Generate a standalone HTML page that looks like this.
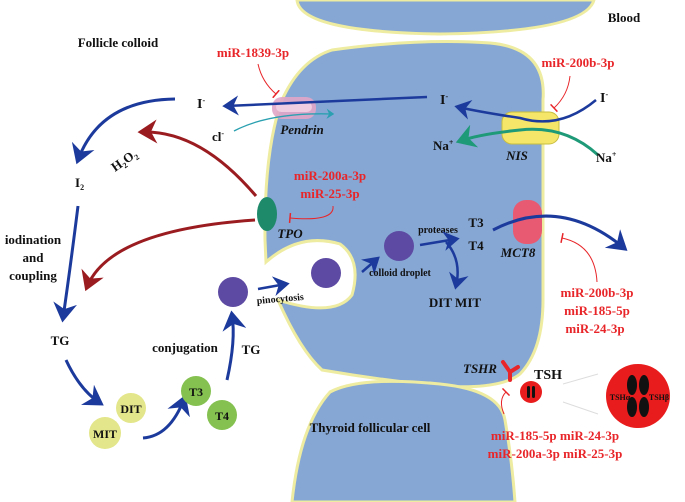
<!DOCTYPE html>
<html><head><meta charset="utf-8"><style>
body{margin:0;background:#fff}
svg{display:block}
text{font-family:"Liberation Serif",serif;font-weight:bold}
.r{fill:#e8262a;font-size:13px}
.k{fill:#111;font-size:12px}
</style></head><body>
<svg width="685" height="502" viewBox="0 0 685 502" xmlns="http://www.w3.org/2000/svg">
<defs>
<marker id="ab" markerWidth="8" markerHeight="8" refX="5" refY="4" orient="auto" markerUnits="strokeWidth"><path d="M0,0 L6.5,4 L0,8 L2,4z" fill="#1c3a9c"/></marker>
<marker id="ar" markerWidth="8" markerHeight="8" refX="5" refY="4" orient="auto" markerUnits="strokeWidth"><path d="M0,0 L6.5,4 L0,8 L2,4z" fill="#9b1c20"/></marker>
<marker id="ag" markerWidth="8" markerHeight="8" refX="5" refY="4" orient="auto" markerUnits="strokeWidth"><path d="M0,0 L6.5,4 L0,8 L2,4z" fill="#1f9a78"/></marker>
<marker id="at" markerWidth="8" markerHeight="8" refX="5" refY="4" orient="auto" markerUnits="strokeWidth"><path d="M0,0 L6,4 L0,8 L2,4z" fill="#2aa0b0"/></marker>
<marker id="inh" markerWidth="2" markerHeight="10" refX="1" refY="5" orient="auto" markerUnits="userSpaceOnUse"><path d="M1,0 L1,10" stroke="#e8262a" stroke-width="1.5"/></marker>
</defs>
<path d="M297,0 Q300,32 440,34 Q585,32 594,0Z" fill="#86a7d4" stroke="#eeeca0" stroke-width="3"/>
<path d="M332,50 Q300,60 282,100 Q264,150 265,240 L266,262 Q300,232 340,244 Q362,260 352,295 Q335,318 278,300 Q300,350 322,370 Q380,380 440,386 Q500,390 520,374 Q543,350 543,300 L543,100 Q547,48 490,43 Q420,38 332,50Z" fill="#86a7d4" stroke="#eeeca0" stroke-width="3"/>
<path d="M292,502 Q300,425 330,392 Q360,376 440,384 Q500,390 505,420 Q512,460 515,502Z" fill="#86a7d4" stroke="#eeeca0" stroke-width="3"/>

<text x="624" y="22" class="k" style="font-size:13px" text-anchor="middle">Blood</text>
<text x="118" y="47" class="k" style="font-size:13px" text-anchor="middle">Follicle colloid</text>
<text x="253" y="57" class="r" text-anchor="middle">miR-1839-3p</text>
<path d="M258,64 Q262,82 276,94" fill="none" stroke="#e8262a" stroke-width="1" marker-end="url(#inh)"/>
<rect x="272" y="97" width="44" height="22" rx="10" fill="#e0a6c8" opacity=".9"/>
<rect x="276" y="102" width="36" height="10" rx="5" fill="#f0cde0"/>
<text x="302" y="134" class="k" style="font-style:italic;font-size:13px" text-anchor="middle">Pendrin</text>
<path d="M427,97 Q320,102 226,106" fill="none" stroke="#1c3a9c" stroke-width="2.5" marker-end="url(#ab)"/>
<text x="197" y="108" class="k" style="font-size:14px">I<tspan dy="-5" font-size="8">-</tspan></text>
<text x="212" y="141" class="k" style="font-size:13px">cl<tspan dy="-5" font-size="8">-</tspan></text>
<path d="M234,131 Q270,112 333,114" fill="none" stroke="#2aa0b0" stroke-width="1.3" marker-end="url(#at)"/>
<text x="578" y="67" class="r" text-anchor="middle">miR-200b-3p</text>
<path d="M570,76 Q568,95 554,108" fill="none" stroke="#e8262a" stroke-width="1" marker-end="url(#inh)"/>
<rect x="502" y="112" width="57" height="32" rx="10" fill="#f5e66a" stroke="#c8bd40" stroke-width="1"/>
<path d="M596,100 Q560,130 520,118 Q480,112 458,107" fill="none" stroke="#1c3a9c" stroke-width="2.5" marker-end="url(#ab)"/>
<path d="M598,155 Q565,125 520,130 Q480,134 460,141" fill="none" stroke="#1f9a78" stroke-width="3" marker-end="url(#ag)"/>
<text x="517" y="160" class="k" style="font-style:italic;font-size:13px" text-anchor="middle">NIS</text>
<text x="600" y="102" class="k" style="font-size:14px">I<tspan dy="-5" font-size="8">-</tspan></text>
<text x="440" y="104" class="k" style="font-size:14px">I<tspan dy="-5" font-size="8">-</tspan></text>
<text x="596" y="162" class="k" style="font-size:13px">Na<tspan dy="-5" font-size="8">+</tspan></text>
<text x="433" y="150" class="k" style="font-size:13px">Na<tspan dy="-5" font-size="8">+</tspan></text>
<path d="M175,99 Q100,100 78,160" fill="none" stroke="#1c3a9c" stroke-width="3" marker-end="url(#ab)"/>
<text x="115" y="172" class="k" style="font-size:13px" transform="rotate(-35 115 172)">H<tspan dy="3" font-size="8">2</tspan><tspan dy="-3">O</tspan><tspan dy="3" font-size="8">2</tspan></text>
<path d="M256,196 Q200,130 142,132" fill="none" stroke="#9b1c20" stroke-width="3" marker-end="url(#ar)"/>
<text x="75" y="187" class="k" style="font-size:13px">I<tspan dy="3" font-size="8">2</tspan></text>
<path d="M78,206 Q70,270 63,318" fill="none" stroke="#1c3a9c" stroke-width="3" marker-end="url(#ab)"/>
<text x="33" y="244" class="k" style="font-size:13px" text-anchor="middle">iodination</text>
<text x="33" y="262" class="k" style="font-size:13px" text-anchor="middle">and</text>
<text x="33" y="280" class="k" style="font-size:13px" text-anchor="middle">coupling</text>
<path d="M255,220 Q110,230 87,287" fill="none" stroke="#9b1c20" stroke-width="3" marker-end="url(#ar)"/>
<ellipse cx="267" cy="214" rx="10" ry="17" fill="#1e8a6a"/>
<text x="290" y="238" class="k" style="font-style:italic;font-size:13px" text-anchor="middle">TPO</text>
<text x="330" y="180" class="r" text-anchor="middle">miR-200a-3p</text>
<text x="330" y="198" class="r" text-anchor="middle">miR-25-3p</text>
<path d="M333,206 Q335,222 290,218" fill="none" stroke="#e8262a" stroke-width="1" marker-end="url(#inh)"/>
<text x="60" y="345" class="k" style="font-size:13px" text-anchor="middle">TG</text>
<path d="M66,360 Q80,390 100,403" fill="none" stroke="#1c3a9c" stroke-width="3" marker-end="url(#ab)"/>
<circle cx="131" cy="408" r="15" fill="#e3e68a"/>
<text x="131" y="413" class="k" style="font-size:12px" text-anchor="middle">DIT</text>
<circle cx="105" cy="433" r="16" fill="#e3e68a"/>
<text x="105" y="438" class="k" style="font-size:12px" text-anchor="middle">MIT</text>
<path d="M143,438 Q170,436 184,399" fill="none" stroke="#1c3a9c" stroke-width="3" marker-end="url(#ab)"/>
<circle cx="196" cy="391" r="15" fill="#84c150"/>
<text x="196" y="396" class="k" style="font-size:12px" text-anchor="middle">T3</text>
<circle cx="222" cy="415" r="15" fill="#84c150"/>
<text x="222" y="420" class="k" style="font-size:12px" text-anchor="middle">T4</text>
<path d="M227,380 Q236,340 232,315" fill="none" stroke="#1c3a9c" stroke-width="3" marker-end="url(#ab)"/>
<text x="185" y="352" class="k" style="font-size:13px" text-anchor="middle">conjugation</text>
<text x="251" y="354" class="k" style="font-size:13px" text-anchor="middle">TG</text>
<circle cx="233" cy="292" r="15" fill="#5d4aa2"/>
<path d="M258,289 L286,284" fill="none" stroke="#1c3a9c" stroke-width="2.5" marker-end="url(#ab)"/>
<text x="257" y="304" class="k" style="font-size:10px" transform="rotate(-5 257 304)">pinocytosis</text>
<circle cx="326" cy="273" r="15" fill="#5d4aa2"/>
<path d="M362,272 L377,259" fill="none" stroke="#1c3a9c" stroke-width="2.5" marker-end="url(#ab)"/>
<circle cx="399" cy="246" r="15" fill="#5d4aa2"/>
<text x="400" y="276" class="k" style="font-size:10px" text-anchor="middle">colloid droplet</text>
<text x="438" y="233" class="k" style="font-size:10px" text-anchor="middle">proteases</text>
<path d="M420,245 L456,239" fill="none" stroke="#1c3a9c" stroke-width="2.5" marker-end="url(#ab)"/>
<path d="M446,242 Q462,260 456,286" fill="none" stroke="#1c3a9c" stroke-width="2.5" marker-end="url(#ab)"/>
<text x="476" y="227" class="k" style="font-size:13px" text-anchor="middle">T3</text>
<text x="476" y="250" class="k" style="font-size:13px" text-anchor="middle">T4</text>
<text x="455" y="307" class="k" style="font-size:13px" text-anchor="middle">DIT  MIT</text>
<rect x="513" y="200" width="29" height="44" rx="13" fill="#e85a72"/>
<path d="M493,230 Q560,195 624,248" fill="none" stroke="#1c3a9c" stroke-width="3" marker-end="url(#ab)"/>
<text x="518" y="257" class="k" style="font-style:italic;font-size:13px" text-anchor="middle">MCT8</text>
<path d="M597,282 Q595,245 562,238" fill="none" stroke="#e8262a" stroke-width="1" marker-end="url(#inh)"/>
<text x="597" y="297" class="r" text-anchor="middle">miR-200b-3p</text>
<text x="597" y="315" class="r" text-anchor="middle">miR-185-5p</text>
<text x="595" y="333" class="r" text-anchor="middle">miR-24-3p</text>
<text x="480" y="373" class="k" style="font-style:italic;font-size:13px" text-anchor="middle">TSHR</text>
<path d="M503,362 L510,372 L518,367 M510,372 L510,380" fill="none" stroke="#e8262a" stroke-width="4" stroke-linecap="round"/>
<text x="548" y="379" class="k" style="font-size:14px" text-anchor="middle">TSH</text>
<circle cx="531" cy="392" r="11" fill="#e81c1c"/>
<rect x="527" y="386" width="3" height="12" rx="1.5" fill="#111"/><rect x="532" y="386" width="3" height="12" rx="1.5" fill="#111"/>
<path d="M563,384 L598,374 M563,402 L598,414" stroke="#ddd" stroke-width="1"/>
<circle cx="638" cy="396" r="32" fill="#e81c1c"/>
<ellipse cx="632" cy="385" rx="5" ry="10" fill="#111"/><ellipse cx="632" cy="407" rx="5" ry="10" fill="#111"/>
<ellipse cx="644" cy="385" rx="5" ry="10" fill="#111"/><ellipse cx="644" cy="407" rx="5" ry="10" fill="#111"/>
<text x="620" y="400" class="k" style="font-size:8px" text-anchor="middle">TSHα</text>
<text x="659" y="400" class="k" style="font-size:8px" text-anchor="middle">TSHβ</text>
<path d="M504,414 Q498,400 506,392" fill="none" stroke="#e8262a" stroke-width="1" marker-end="url(#inh)"/>
<text x="555" y="440" class="r" text-anchor="middle">miR-185-5p miR-24-3p</text>
<text x="555" y="458" class="r" text-anchor="middle">miR-200a-3p miR-25-3p</text>
<text x="370" y="432" class="k" style="font-size:13px" text-anchor="middle">Thyroid follicular cell</text>
</svg>
</body></html>
